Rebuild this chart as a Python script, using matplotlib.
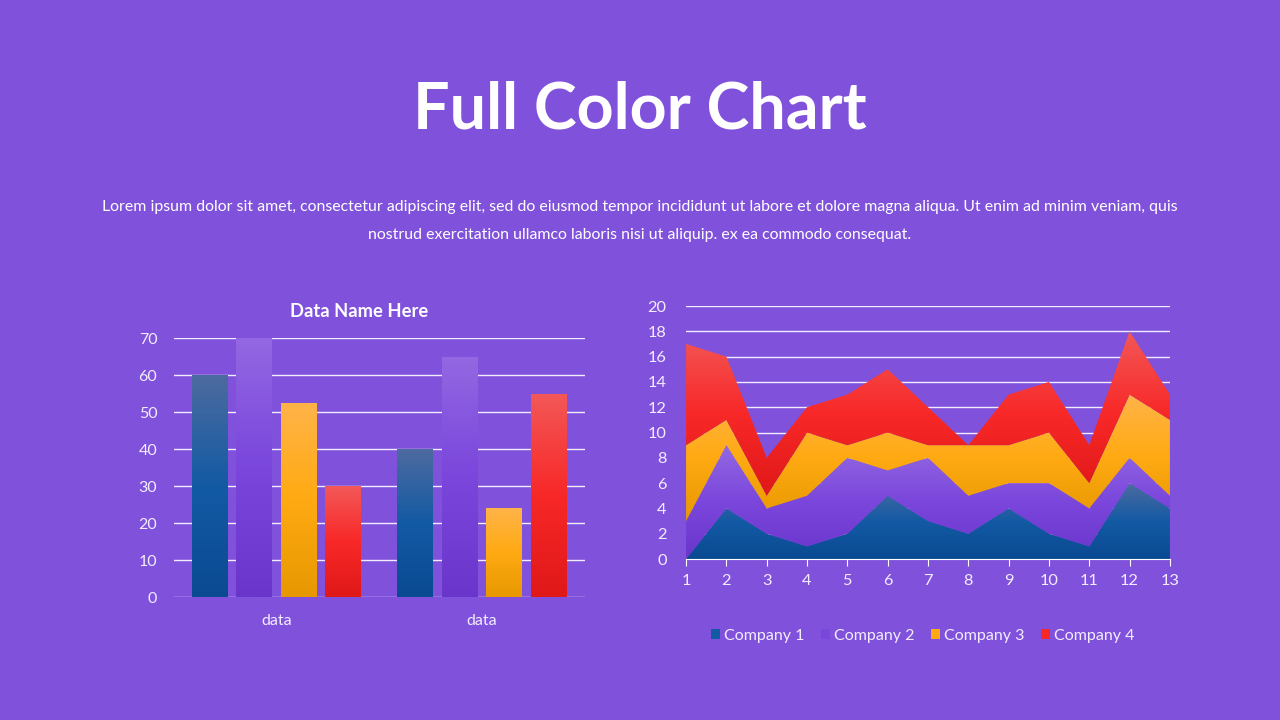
import numpy as np
import matplotlib.pyplot as plt
from matplotlib.colors import LinearSegmentedColormap
from matplotlib.patches import Patch

plt.rcParams['font.family'] = ['Lato', 'DejaVu Sans']

# ---- data ----
bar_groups = ['data', 'data']
bar_series = ['Series 1', 'Series 2', 'Series 3', 'Series 4']
bar_s1 = [60, 40]
bar_s2 = [70, 65]
bar_s3 = [52.5, 24]
bar_s4 = [30, 55]

x_points = [1, 2, 3, 4, 5, 6, 7, 8, 9, 10, 11, 12, 13]
company1 = [0, 4, 2, 1, 2, 5, 3, 2, 4, 2, 1, 6, 4]
company2 = [3, 5, 2, 4, 6, 2, 5, 3, 2, 4, 3, 2, 1]
company3 = [6, 2, 1, 5, 1, 3, 1, 4, 3, 4, 2, 5, 6]
company4 = [8, 5, 3, 2, 4, 5, 3, 0, 4, 4, 3, 5, 2]
company_names = ['Company 1', 'Company 2', 'Company 3', 'Company 4']

bg = '#8052DC'
txt = '#f3ecff'

# gradients top -> bottom
grads = [
    ['#4d6b9f', '#135aa4', '#0a4a92'],
    ['#9368e2', '#7a46dc', '#6a35cb'],
    ['#ffb449', '#ffaa12', '#e79800'],
    ['#f35858', '#f82828', '#e01818'],
]
cmaps = [LinearSegmentedColormap.from_list('g%d' % i, g[::-1]) for i, g in enumerate(grads)]
legend_cols = [g[1] for g in grads]

fig = plt.figure(figsize=(12.8, 7.2), dpi=100, facecolor=bg)

fig.text(0.5, 0.847, 'Full Color Chart', ha='center', va='center',
         fontsize=46.5, fontweight='bold', color='white')
fig.text(0.5, 0.713, 'Lorem ipsum dolor sit amet, consectetur adipiscing elit, sed do eiusmod tempor '
         'incididunt ut labore et dolore magna aliqua. Ut enim ad minim veniam, quis',
         ha='center', va='center', fontsize=11.4, color='white')
fig.text(0.5, 0.674, 'nostrud exercitation ullamco laboris nisi ut aliquip. ex ea commodo consequat.',
         ha='center', va='center', fontsize=11.4, color='white')

grad_img = np.linspace(0, 1, 256).reshape(-1, 1)

# ---- bar chart ----
ax1 = fig.add_axes([0.1359, 0.1708, 0.321, 0.3597])
ax1.set_facecolor(bg)
xg = np.arange(len(bar_groups))
width = 0.175
step = 0.2165
for i, vals in enumerate([bar_s1, bar_s2, bar_s3, bar_s4]):
    offs = (i - 1.5) * step
    bars = ax1.bar(xg + offs, vals, width, color='none', zorder=3)
    for b in bars:
        x0, y0 = b.get_x(), b.get_y()
        im = ax1.imshow(grad_img, cmap=cmaps[i], aspect='auto', origin='lower',
                        extent=[x0, x0 + b.get_width(), y0, y0 + b.get_height()], zorder=3)
        im.set_clip_path(b)
ax1.set_xlim(-0.5, 1.5)
ax1.set_ylim(0, 70)
ax1.set_yticks(range(0, 71, 10))
ax1.yaxis.grid(True, color='white', lw=1, alpha=0.9, zorder=1)
ax1.set_axisbelow(True)
ax1.set_xticks(xg)
ax1.set_xticklabels(bar_groups)
ax1.tick_params(length=0, colors=txt, labelsize=11.5, pad=12)
ax1.tick_params(axis='x', pad=12)
for s in ax1.spines.values():
    s.set_visible(False)
fig.text(0.2805, 0.567, 'Data Name Here', ha='center', va='center',
         color='white', fontsize=13.2, fontweight='bold')

# ---- stacked area chart ----
ax2 = fig.add_axes([0.536, 0.2236, 0.378, 0.3514])
ax2.set_facecolor(bg)
base = np.zeros(len(x_points))
for i, vals in enumerate([company1, company2, company3, company4]):
    top = base + np.array(vals)
    poly = ax2.fill_between(x_points, base, top, color='none', lw=0, zorder=3)
    path = poly.get_paths()[0]
    im = ax2.imshow(grad_img, cmap=cmaps[i], aspect='auto', origin='lower',
                    extent=[x_points[0], x_points[-1], base.min(), top.max()], zorder=3)
    im.set_clip_path(path, ax2.transData)
    base = top
ax2.set_xlim(1, 13)
ax2.set_ylim(0, 20)
ax2.set_xticks(x_points)
ax2.set_yticks(range(0, 21, 2))
ax2.yaxis.grid(True, color='white', lw=1, alpha=0.9, zorder=1)
ax2.set_axisbelow(True)
for s in ['top', 'right', 'left']:
    ax2.spines[s].set_visible(False)
ax2.spines['bottom'].set_color('white')
ax2.spines['bottom'].set_zorder(4)
ax2.tick_params(axis='x', length=5, color='white', colors=txt, labelsize=11.8, pad=6)
ax2.tick_params(axis='y', length=0, colors=txt, labelsize=11.8, pad=14)

handles = [Patch(facecolor=c, edgecolor='none') for c in legend_cols]
fig.legend(handles, company_names, loc='center', bbox_to_anchor=(0.721, 0.117), ncol=4,
           frameon=False, fontsize=11.5, labelcolor=txt, handlelength=0.55, handleheight=0.55,
           handletextpad=0.3, columnspacing=1.0)

fig.savefig('out.png', dpi=100, facecolor=bg)
